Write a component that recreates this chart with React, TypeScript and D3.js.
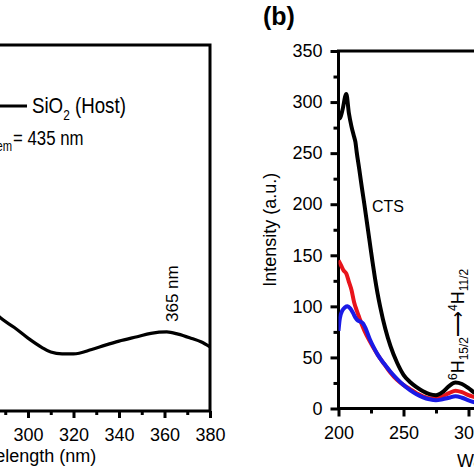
import { useEffect, useRef } from 'react';
import * as d3 from 'd3';

// (a) SiO2 host excitation, lambda_em = 435 nm (panel is cut at the left edge)
const hostWavelength = [282, 286, 288, 294, 300, 306, 310, 315, 320, 328, 334, 340, 348, 354, 361, 366, 372, 376, 380];
const hostIntensity = [0.29, 0.265, 0.254, 0.228, 0.199, 0.174, 0.161, 0.156, 0.156, 0.168, 0.18, 0.191, 0.203, 0.212, 0.216, 0.21, 0.198, 0.189, 0.175];
const leftMajorTicks = [300, 320, 340, 360, 380];
const leftMinorTicks = [290, 310, 330, 350, 370];

// (b) excitation spectra
const ctsWavelength = [200, 201, 203, 206, 208, 210, 212, 213, 214, 216, 218, 220, 222, 224, 226, 228, 230, 232, 236, 240, 245, 250, 255, 260, 265, 270, 275, 280, 285, 290, 295, 300, 305, 310];
const ctsBlack = [290, 284, 292, 308, 289, 276, 266, 261, 251, 234, 216, 199, 181, 163, 145, 128, 113, 100, 78, 61, 45, 33, 26, 21, 17, 14, 13, 16, 22, 25.5, 24, 20, 15, 12];
const redWavelength = [200, 202, 204, 206, 208, 210, 212, 214, 216, 218, 220, 224, 228, 232, 236, 240, 245, 250, 255, 260, 265, 270, 275, 280, 285, 290, 295, 300, 305, 310];
const redSeries = [145, 140, 135, 132, 124, 116, 104, 96, 89, 82, 76, 66, 57, 49, 42, 35, 28, 23, 19, 15, 12, 10, 10, 12, 15, 17.5, 16, 13, 11, 9];
const blueWavelength = [200, 201, 203, 205, 207, 209, 211, 213, 215, 217, 219, 221, 224, 227, 230, 235, 240, 245, 250, 255, 260, 265, 270, 275, 280, 285, 290, 295, 300, 305, 310];
const blueSeries = [76, 88, 96, 99, 100, 98, 94, 89, 86, 85, 83, 78, 68, 60, 53, 44, 36, 29, 23, 18, 14, 11, 9, 8, 9, 10.5, 12, 10.5, 8, 6, 5];
const rightMajorTicksX = [200, 250, 300];
const rightMinorTicksX = [225, 275];
const rightMajorTicksY = [0, 50, 100, 150, 200, 250, 300, 350];
const rightMinorTicksY = [25, 75, 125, 175, 225, 275, 325];

const FONT = '"Liberation Sans", Arial, Helvetica, sans-serif';

export default function App() {
  const svgRef = useRef<SVGSVGElement>(null);

  useEffect(() => {
    if (!svgRef.current) return;
    const svg = d3.select(svgRef.current);
    svg.selectAll('*').remove();

    // ---------- left panel ----------
    const lx = d3.scaleLinear().domain([220, 380]).range([210 - 160 * 2.275, 210]);
    const ly = d3.scaleLinear().domain([0, 1]).range([411, 45]);

    const left = svg.append('g');

    left.append('rect')
      .attr('x', lx(220)).attr('y', ly(1))
      .attr('width', lx(380) - lx(220)).attr('height', ly(0) - ly(1))
      .attr('fill', 'none').attr('stroke', '#000').attr('stroke-width', 3);

    const lxAxis = left.append('g')
      .attr('transform', `translate(0,${ly(0)})`)
      .call(d3.axisBottom(lx).tickValues(leftMajorTicks).tickSize(7).tickSizeOuter(0).tickPadding(10));
    lxAxis.select('.domain').remove();
    lxAxis.selectAll('line').attr('stroke-width', 3);
    lxAxis.selectAll('text')
      .style('font-family', FONT).style('font-size', '18px').style('fill', '#000');

    const lxMinor = left.append('g')
      .attr('transform', `translate(0,${ly(0)})`)
      .call(d3.axisBottom(lx).tickValues(leftMinorTicks).tickSize(4).tickSizeOuter(0).tickFormat(() => ''));
    lxMinor.select('.domain').remove();
    lxMinor.selectAll('line').attr('stroke-width', 3);

    const hostLine = d3.line<number>()
      .x((_, i) => lx(hostWavelength[i]))
      .y(d => ly(d))
      .curve(d3.curveMonotoneX);

    left.append('path')
      .datum(hostIntensity)
      .attr('d', hostLine)
      .attr('fill', 'none').attr('stroke', '#000').attr('stroke-width', 3.2);

    left.append('text')
      .attr('transform', 'translate(178,322) rotate(-90)')
      .style('font-family', FONT).style('font-size', '17px')
      .text('365 nm');

    left.append('text')
      .attr('x', (lx(220) + lx(380)) / 2).attr('y', 462)
      .attr('text-anchor', 'middle')
      .style('font-family', FONT).style('font-size', '18px')
      .text('Wavelength (nm)');

    // legend
    left.append('line')
      .attr('x1', -10).attr('x2', 27).attr('y1', 106).attr('y2', 106)
      .attr('stroke', '#000').attr('stroke-width', 3);

    const leg1 = left.append('text')
      .attr('transform', 'translate(32,113) scale(0.85,1)')
      .style('font-family', FONT).style('font-size', '22px');
    leg1.append('tspan').text('SiO');
    leg1.append('tspan').attr('dy', 7).style('font-size', '14px').text('2');
    leg1.append('tspan').attr('dy', -7).text(' (Host)');

    const leg2 = left.append('text')
      .attr('transform', 'translate(12,145) scale(0.8,1)')
      .attr('text-anchor', 'end')
      .style('font-family', FONT).style('font-size', '21px');
    leg2.append('tspan').text('λ');
    leg2.append('tspan').attr('dy', 6).style('font-size', '14px').text('em');

    left.append('text')
      .attr('transform', 'translate(13,145) scale(0.8,1)')
      .style('font-family', FONT).style('font-size', '21px')
      .text('= 435 nm');

    // ---------- right panel ----------
    const rx = d3.scaleLinear().domain([200, 480]).range([338.5, 338.5 + 280 * 1.3]);
    const ry = d3.scaleLinear().domain([0, 350]).range([408.5, 51]);

    const right = svg.append('g');

    right.append('rect')
      .attr('x', rx(200)).attr('y', ry(350))
      .attr('width', rx(480) - rx(200)).attr('height', ry(0) - ry(350))
      .attr('fill', 'none').attr('stroke', '#000').attr('stroke-width', 3);

    const styleAxis = (g: d3.Selection<SVGGElement, unknown, null, undefined>) => {
      g.select('.domain').remove();
      g.selectAll('line').attr('stroke-width', 3);
      g.selectAll('text')
        .style('font-family', FONT).style('font-size', '18px').style('fill', '#000');
    };

    right.append('g')
      .attr('transform', `translate(0,${ry(0)})`)
      .call(d3.axisBottom(rx).tickValues(rightMajorTicksX).tickSize(8).tickSizeOuter(0).tickPadding(10))
      .call(styleAxis);
    right.append('g')
      .attr('transform', `translate(0,${ry(0)})`)
      .call(d3.axisBottom(rx).tickValues(rightMinorTicksX).tickSize(5).tickSizeOuter(0).tickFormat(() => ''))
      .call(styleAxis);
    right.append('g')
      .attr('transform', `translate(${rx(200)},0)`)
      .call(d3.axisLeft(ry).tickValues(rightMajorTicksY).tickSize(8).tickSizeOuter(0).tickPadding(8))
      .call(styleAxis);
    right.append('g')
      .attr('transform', `translate(${rx(200)},0)`)
      .call(d3.axisLeft(ry).tickValues(rightMinorTicksY).tickSize(5).tickSizeOuter(0).tickFormat(() => ''))
      .call(styleAxis);

    const clip = right.append('clipPath').attr('id', 'clipb');
    clip.append('rect')
      .attr('x', rx(200)).attr('y', ry(350))
      .attr('width', rx(480) - rx(200)).attr('height', ry(0) - ry(350));

    const series = [
      { wl: redWavelength, values: redSeries, color: '#e8141b' },
      { wl: blueWavelength, values: blueSeries, color: '#1a1ae6' },
      { wl: ctsWavelength, values: ctsBlack, color: '#000' },
    ];
    series.forEach(s => {
      const line = d3.line<number>()
        .x((_, i) => rx(s.wl[i]))
        .y(d => ry(d))
        .curve(d3.curveMonotoneX);
      right.append('path')
        .datum(s.values)
        .attr('clip-path', 'url(#clipb)')
        .attr('d', line)
        .attr('fill', 'none')
        .attr('stroke', s.color)
        .attr('stroke-width', 4)
        .attr('stroke-linejoin', 'round');
    });

    right.append('text')
      .attr('x', 263).attr('y', 25)
      .style('font-family', FONT).style('font-size', '25px').style('font-weight', 'bold')
      .text('(b)');

    right.append('text')
      .attr('transform', `translate(276,${(ry(0) + ry(350)) / 2}) rotate(-90)`)
      .attr('text-anchor', 'middle')
      .style('font-family', FONT).style('font-size', '18px')
      .text('Intensity (a.u.)');

    right.append('text')
      .attr('x', 457).attr('y', 467)
      .style('font-family', FONT).style('font-size', '18px')
      .text('Wavelength (nm)');

    right.append('text')
      .attr('x', 372).attr('y', 212)
      .style('font-family', FONT).style('font-size', '16px')
      .text('CTS');

    const tr = right.append('text')
      .attr('transform', 'translate(464,380) rotate(-90)')
      .style('font-family', FONT).style('font-size', '18px');
    tr.append('tspan').attr('dy', -7).style('font-size', '12px').text('6');
    tr.append('tspan').attr('dy', 7).text('H');
    tr.append('tspan').attr('dy', 4).style('font-size', '12px').text('15/2');
    tr.append('tspan').attr('dy', -4).text('⟶');
    tr.append('tspan').attr('dy', -7).style('font-size', '12px').text('4');
    tr.append('tspan').attr('dy', 7).text('H');
    tr.append('tspan').attr('dy', 4).style('font-size', '12px').text('11/2');
  }, []);

  return (
    <svg
      ref={svgRef}
      width={474}
      height={474}
      style={{ position: 'absolute', left: 0, top: 0, background: '#fff' }}
    />
  );
}
